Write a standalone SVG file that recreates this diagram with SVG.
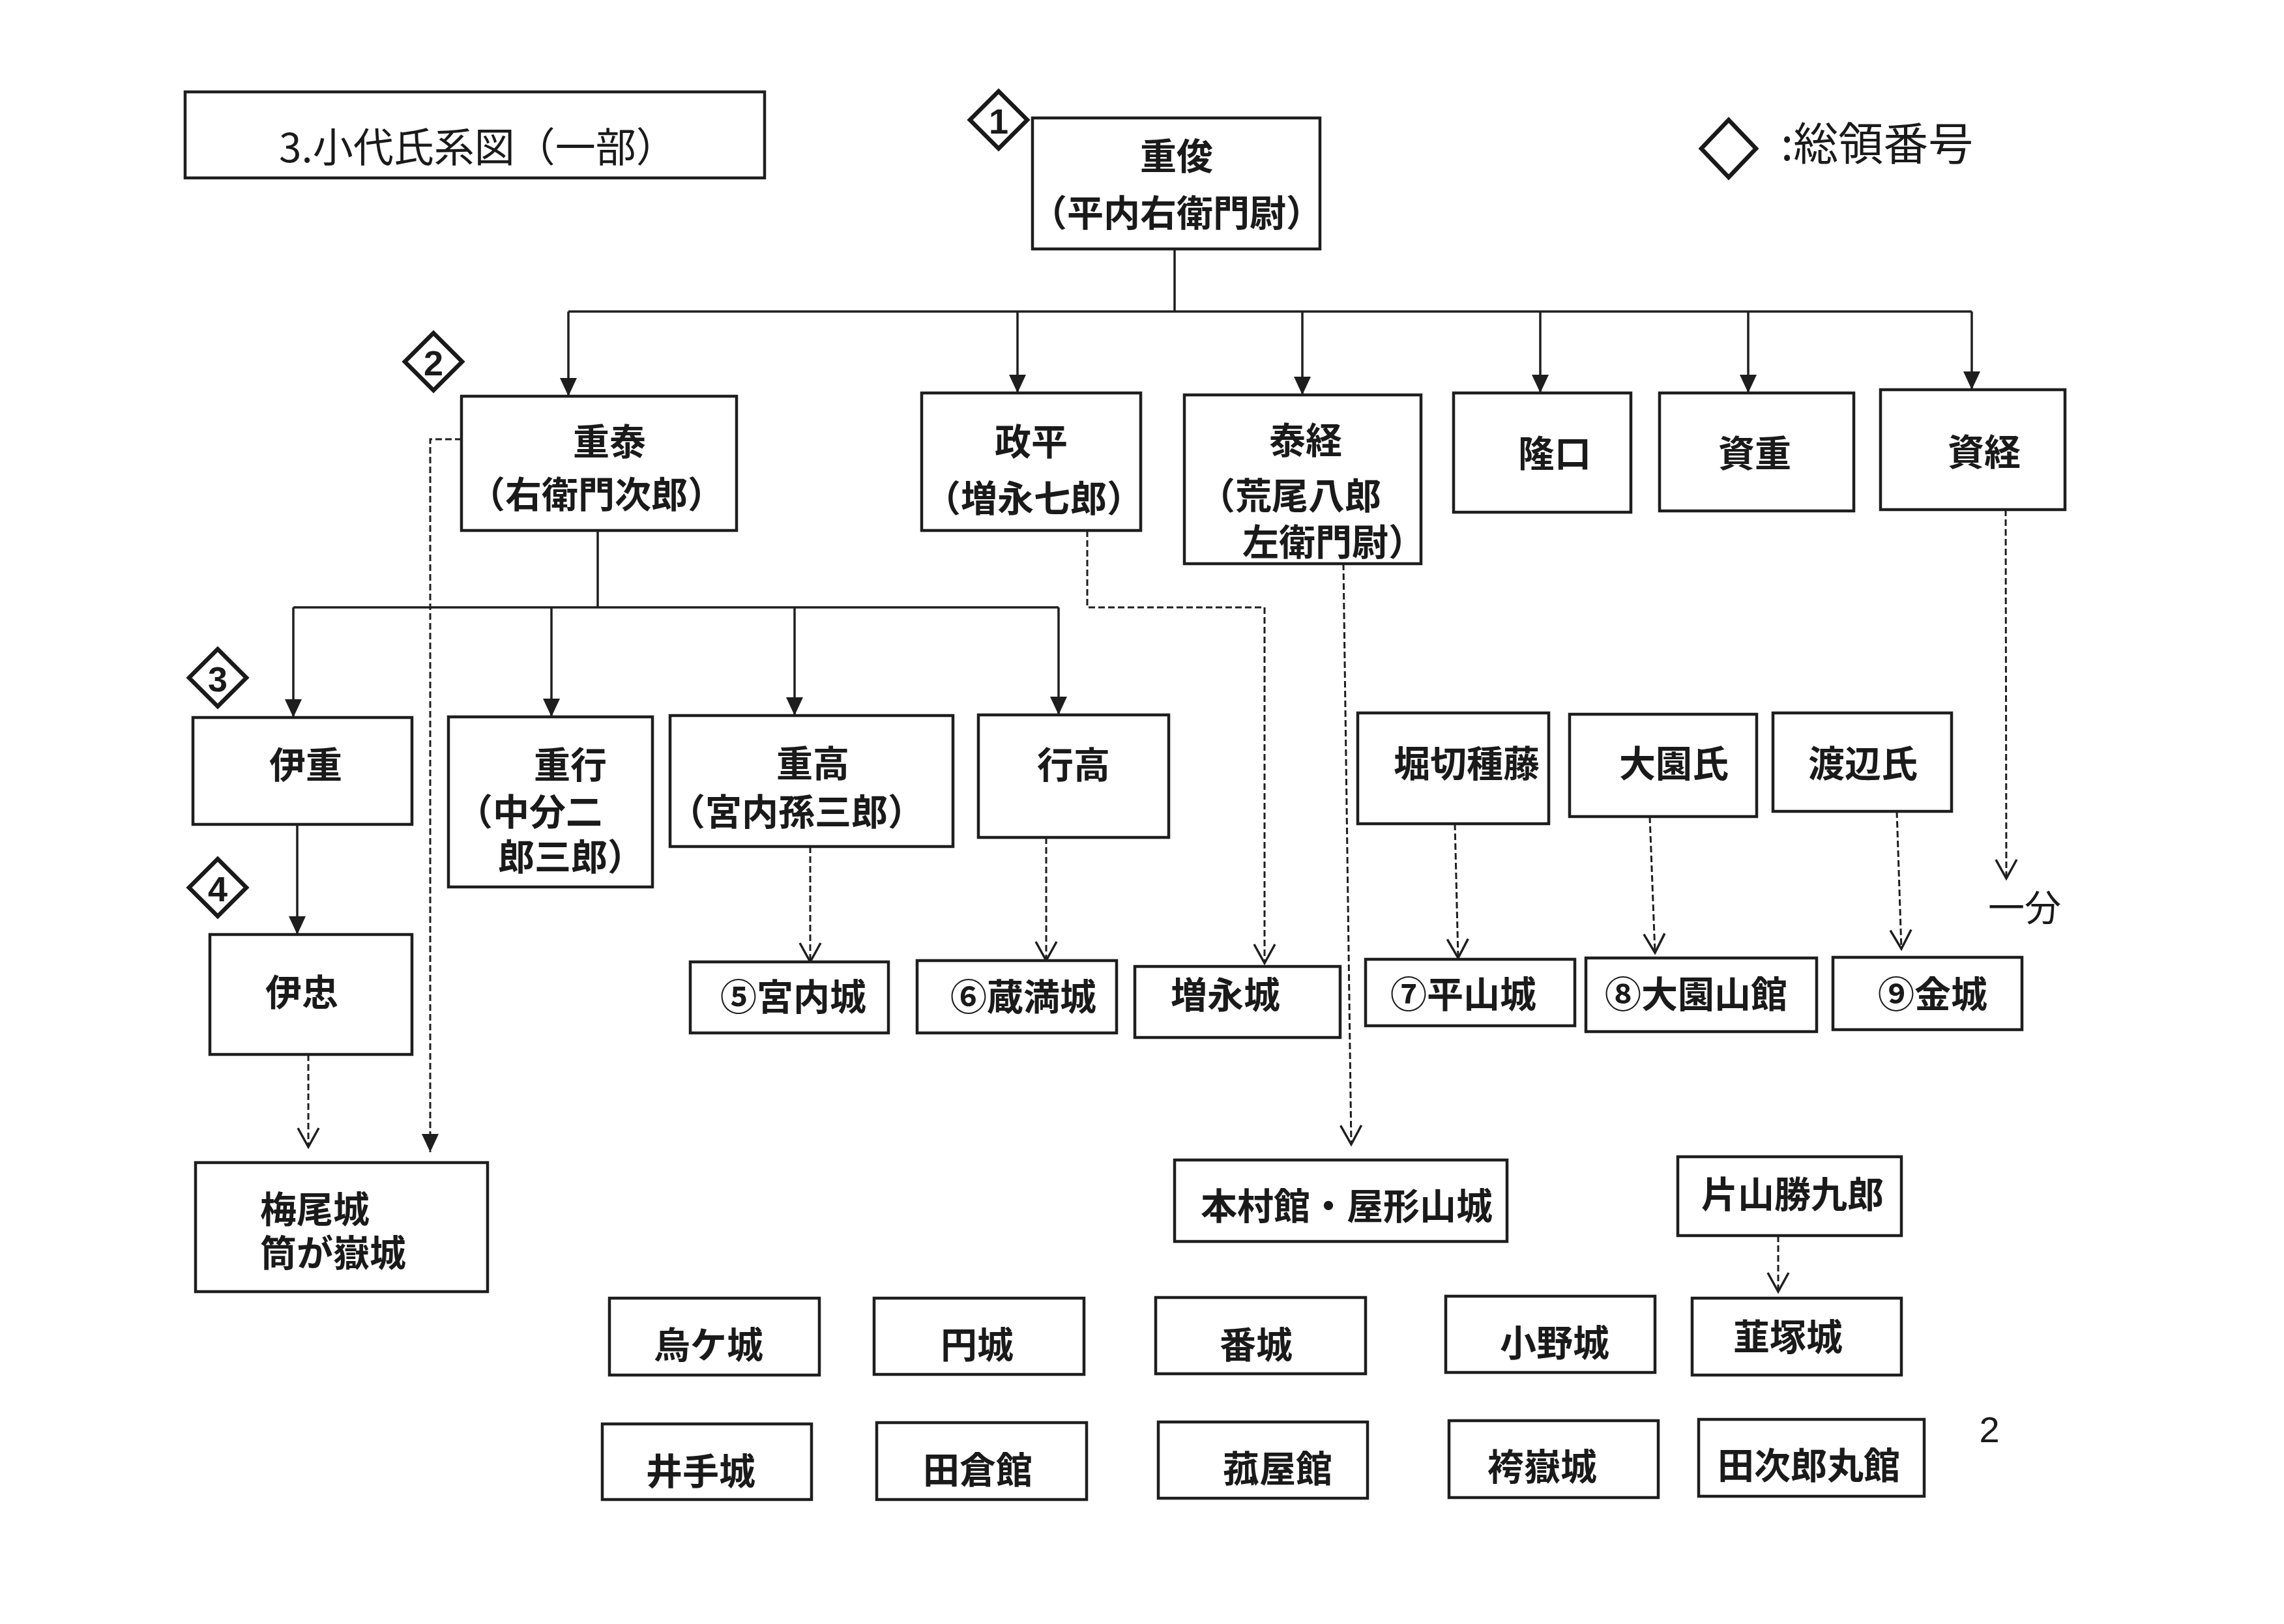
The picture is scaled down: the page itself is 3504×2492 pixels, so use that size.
<svg xmlns="http://www.w3.org/2000/svg" width="3504" height="2492" viewBox="0 0 3504 2492">
<style>
.bg{fill:#ffffff}
.box{fill:#ffffff;stroke:#1e1e1e;stroke-width:4.5}
.t{font-family:"Noto Sans CJK JP","Noto Sans CJK SC",sans-serif;font-size:56px;font-weight:bold;fill:#1a1a1a;dominant-baseline:central}
.c{text-anchor:middle}
.s{text-anchor:start}
.light{font-weight:normal}
.ttl{font-size:62px}
.leg{font-size:69px}
.num{font-family:"Liberation Sans",Arial,sans-serif;font-size:54px;font-weight:bold;fill:#1a1a1a;text-anchor:middle;dominant-baseline:central}
.dia{fill:#ffffff;stroke:#1a1a1a;stroke-width:6.5}
.solid{fill:none;stroke:#1e1e1e;stroke-width:3.5}
.dash{fill:none;stroke:#1e1e1e;stroke-width:3;stroke-dasharray:10 5}
</style>
<defs>
<marker id="af" markerUnits="userSpaceOnUse" markerWidth="28" markerHeight="26" viewBox="0 0 28 26" refX="28" refY="13" orient="auto">
<path d="M0,0 L28,13 L0,26 z" fill="#1e1e1e"/>
</marker>
<marker id="ao" markerUnits="userSpaceOnUse" markerWidth="34" markerHeight="38" viewBox="-2 -3 34 38" refX="29" refY="16" orient="auto" overflow="visible">
<path d="M0,0 L29,16 L0,32" fill="none" stroke="#1e1e1e" stroke-width="3.5"/>
</marker>
</defs>
<rect class="bg" x="0" y="0" width="3504" height="2492"/>

<g id="connectors">
<path class="solid" d="M1802,382 V478"/>
<path class="solid" d="M872,478 H3025"/>
<path class="solid" d="M872,478 V608" marker-end="url(#af)"/>
<path class="solid" d="M1561,478 V603" marker-end="url(#af)"/>
<path class="solid" d="M1998,478 V606" marker-end="url(#af)"/>
<path class="solid" d="M2363,478 V603" marker-end="url(#af)"/>
<path class="solid" d="M2682,478 V603" marker-end="url(#af)"/>
<path class="solid" d="M3025,478 V598" marker-end="url(#af)"/>
<path class="solid" d="M917,814 V932"/>
<path class="solid" d="M450,932 H1624"/>
<path class="solid" d="M450,932 V1101" marker-end="url(#af)"/>
<path class="solid" d="M846,932 V1100" marker-end="url(#af)"/>
<path class="solid" d="M1219,932 V1098" marker-end="url(#af)"/>
<path class="solid" d="M1624,932 V1097" marker-end="url(#af)"/>
<path class="solid" d="M456,1265 V1434" marker-end="url(#af)"/>
<path class="dash" d="M473,1618 V1760" marker-end="url(#ao)"/>
<path class="dash" d="M708,674 H660 V1768" marker-end="url(#af)"/>
<path class="dash" d="M1243,1299 V1476" marker-end="url(#ao)"/>
<path class="dash" d="M1605,1285 V1474" marker-end="url(#ao)"/>
<path class="dash" d="M1668,814 V932 H1940 V1478" marker-end="url(#ao)"/>
<path class="dash" d="M2061,865 L2073,1756" marker-end="url(#ao)"/>
<path class="dash" d="M2232,1264 L2237,1470" marker-end="url(#ao)"/>
<path class="dash" d="M2531,1253 L2539,1462" marker-end="url(#ao)"/>
<path class="dash" d="M2910,1245 L2917,1456" marker-end="url(#ao)"/>
<path class="dash" d="M3077,782 L3078,1348" marker-end="url(#ao)"/>
<path class="dash" d="M2728,1896 V1982" marker-end="url(#ao)"/>
</g>

<g id="title">
<rect class="box" x="284" y="141" width="889" height="132"/>
<text class="t s light ttl" x="428" y="222">3.小代氏系図（一部）</text>
</g>

<g id="legend">
<polygon class="dia" points="2652,184 2694,228 2652,272 2610,228"/>
<text class="t s light leg" x="2732" y="216">:総領番号</text>
</g>

<g id="d1"><polygon class="dia" points="1532,140 1576,184 1532,228 1488,184"/><text class="num" x="1532" y="186">1</text></g>
<g id="d2"><polygon class="dia" points="665,511 709,555 665,599 621,555"/><text class="num" x="665" y="557">2</text></g>
<g id="d3"><polygon class="dia" points="334,996 378,1040 334,1084 290,1040"/><text class="num" x="334" y="1042">3</text></g>
<g id="d4"><polygon class="dia" points="334,1318 378,1362 334,1406 290,1362"/><text class="num" x="334" y="1364">4</text></g>

<g id="n_shigetoshi"><rect class="box" x="1584" y="181" width="441" height="201"/>
<text class="t c" x="1805" y="235">重俊</text><text class="t c" x="1805" y="322">（平内右衛門尉）</text></g>
<g id="n_shigeyasu"><rect class="box" x="708" y="608" width="422" height="206"/>
<text class="t c" x="935" y="673">重泰</text><text class="t c" x="915" y="754">（右衛門次郎）</text></g>
<g id="n_masahira"><rect class="box" x="1414" y="603" width="336" height="211"/>
<text class="t c" x="1582" y="673">政平</text><text class="t c" x="1586" y="760">（増永七郎）</text></g>
<g id="n_yasutsune"><rect class="box" x="1817" y="606" width="363" height="259"/>
<text class="t c" x="2003" y="671">泰経</text><text class="t s" x="1839" y="756">（荒尾八郎</text><text class="t s" x="1906" y="827">左衛門尉）</text></g>
<g id="n_takaguchi"><rect class="box" x="2230" y="603" width="272" height="183"/>
<text class="t c" x="2385" y="691">隆口</text></g>
<g id="n_sukeshige"><rect class="box" x="2546" y="603" width="298" height="181"/>
<text class="t c" x="2692" y="691">資重</text></g>
<g id="n_suketsune"><rect class="box" x="2885" y="598" width="283" height="184"/>
<text class="t c" x="3044" y="689">資経</text></g>

<g id="n_koreshige"><rect class="box" x="296" y="1101" width="336" height="164"/>
<text class="t c" x="469" y="1169">伊重</text></g>
<g id="n_shigeyuki"><rect class="box" x="688" y="1100" width="313" height="261"/>
<text class="t c" x="875" y="1169">重行</text><text class="t c" x="812" y="1241">（中分二</text><text class="t c" x="876" y="1310">郎三郎）</text></g>
<g id="n_shigetaka"><rect class="box" x="1028" y="1098" width="434" height="201"/>
<text class="t c" x="1247" y="1167">重高</text><text class="t c" x="1222" y="1241">（宮内孫三郎）</text></g>
<g id="n_yukitaka"><rect class="box" x="1501" y="1097" width="292" height="188"/>
<text class="t c" x="1647" y="1169">行高</text></g>
<g id="n_koretada"><rect class="box" x="322" y="1434" width="310" height="184"/>
<text class="t c" x="463" y="1518">伊忠</text></g>
<g id="n_umeo"><rect class="box" x="300" y="1784" width="448" height="198"/>
<text class="t s" x="399" y="1851">梅尾城</text><text class="t s" x="399" y="1918">筒が嶽城</text></g>

<g id="n_miyauchi"><rect class="box" x="1059" y="1476" width="304" height="109"/>
<text class="t c" x="1217" y="1525">⑤宮内城</text></g>
<g id="n_kuramitsu"><rect class="box" x="1407" y="1474" width="306" height="111"/>
<text class="t c" x="1570" y="1525">⑥蔵満城</text></g>
<g id="n_masunaga"><rect class="box" x="1741" y="1483" width="315" height="109"/>
<text class="t c" x="1880" y="1522">増永城</text></g>

<g id="n_horikiri"><rect class="box" x="2083" y="1094" width="293" height="170"/>
<text class="t c" x="2250" y="1167">堀切種藤</text></g>
<g id="n_ozono"><rect class="box" x="2408" y="1096" width="287" height="157"/>
<text class="t c" x="2568" y="1167">大園氏</text></g>
<g id="n_watanabe"><rect class="box" x="2720" y="1094" width="274" height="151"/>
<text class="t c" x="2858" y="1167">渡辺氏</text></g>
<g id="n_ichibu"><text class="t c light" x="3106" y="1388">一分</text></g>

<g id="n_hirayama"><rect class="box" x="2095" y="1472" width="321" height="102"/>
<text class="t c" x="2245" y="1521">⑦平山城</text></g>
<g id="n_ozonoyama"><rect class="box" x="2433" y="1470" width="354" height="113"/>
<text class="t c" x="2602" y="1521">⑧大園山館</text></g>
<g id="n_kanajo"><rect class="box" x="2812" y="1469" width="290" height="111"/>
<text class="t c" x="2965" y="1521">⑨金城</text></g>

<g id="n_honmura"><rect class="box" x="1802" y="1780" width="510" height="125"/>
<text class="t c" x="2066" y="1846">本村館・屋形山城</text></g>
<g id="n_katayama"><rect class="box" x="2574" y="1775" width="343" height="121"/>
<text class="t c" x="2750" y="1828">片山勝九郎</text></g>

<g id="n_karasuga"><rect class="box" x="935" y="1992" width="322" height="118"/>
<text class="t c" x="1087" y="2059">烏ケ城</text></g>
<g id="n_enjo"><rect class="box" x="1341" y="1992" width="322" height="117"/>
<text class="t c" x="1499" y="2059">円城</text></g>
<g id="n_banjo"><rect class="box" x="1773" y="1991" width="322" height="117"/>
<text class="t c" x="1927" y="2059">番城</text></g>
<g id="n_ono"><rect class="box" x="2218" y="1989" width="321" height="117"/>
<text class="t c" x="2385" y="2056">小野城</text></g>
<g id="n_nirazuka"><rect class="box" x="2596" y="1992" width="321" height="118"/>
<text class="t c" x="2743" y="2047">韮塚城</text></g>

<g id="n_ide"><rect class="box" x="924" y="2185" width="321" height="116"/>
<text class="t c" x="1075" y="2253">井手城</text></g>
<g id="n_takura"><rect class="box" x="1345" y="2183" width="322" height="118"/>
<text class="t c" x="1500" y="2251">田倉館</text></g>
<g id="n_komoya"><rect class="box" x="1777" y="2182" width="321" height="117"/>
<text class="t c" x="1960" y="2249">菰屋館</text></g>
<g id="n_hakama"><rect class="box" x="2223" y="2180" width="321" height="118"/>
<text class="t c" x="2366" y="2246">袴嶽城</text></g>
<g id="n_tajiromaru"><rect class="box" x="2606" y="2178" width="346" height="118"/>
<text class="t c" x="2775" y="2244">田次郎丸館</text></g>

<g id="pageno"><text x="3052" y="2193" font-family="Liberation Sans, Arial, sans-serif" font-size="56" fill="#1a1a1a" text-anchor="middle" dominant-baseline="central">2</text></g>
</svg>
